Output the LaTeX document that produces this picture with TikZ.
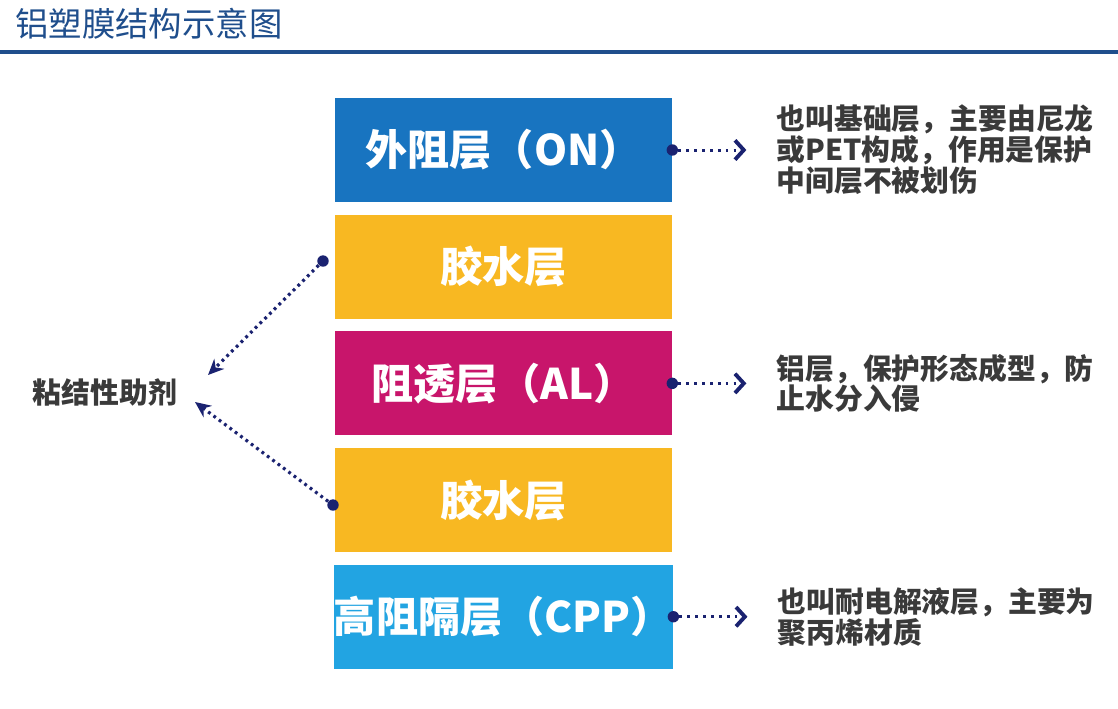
\documentclass[tikz,border=0pt]{standalone}
\usepackage{fontspec}
\usepackage{xcolor}
\usetikzlibrary{arrows.meta,positioning,calc}
\newfontfamily\cjk{Noto Sans CJK SC}
\definecolor{onblue}{HTML}{1874C0}
\definecolor{glueyellow}{HTML}{F8B822}
\definecolor{almag}{HTML}{C8156B}
\definecolor{cppblue}{HTML}{22A4E2}
\definecolor{navy}{HTML}{1A2270}
\definecolor{titleblue}{HTML}{1F4E8C}
\definecolor{txtgray}{HTML}{3A3A3A}
\begin{document}
\begin{tikzpicture}[x=0.02cm,y=-0.02cm,
  layer/.style={rectangle,minimum width=6.74cm,minimum height=2.08cm,inner sep=0pt,text=white,font=\cjk\bfseries\fontsize{24}{28}\selectfont},
  note/.style={anchor=west,align=left,inner sep=0pt,text=txtgray,font=\cjk\bfseries\fontsize{16.4}{17.6}\selectfont},
  pin/.style={circle,fill=navy,inner sep=0pt,minimum size=6.5pt},
  rarrow/.style={navy,line width=1.7pt,dash pattern=on 1.5pt off 3pt,shorten >=0.6cm,-{Straight Barb[length=5pt,width=11pt,line width=2.2pt]}},
  larrow/.style={navy,line width=1.8pt,dash pattern=on 1.6pt off 2.2pt,-{Stealth[length=9pt,width=8pt]}}]
\useasboundingbox (0,0) rectangle (1118,708);
\node[anchor=west,inner sep=0pt,text=titleblue,font=\cjk\fontsize{19}{22}\selectfont] (title) at (15,24) {铝塑膜结构示意图};
\draw[titleblue,line width=2.2pt] (0,52) -- (1118,52);
\node[layer,fill=onblue] (b1) at (503.5,150) {外阻层（ON）};
\node[layer,fill=glueyellow,below=0.24cm of b1] (b2) {胶水层};
\node[layer,fill=almag,below=0.24cm of b2] (b3) {阻透层（AL）};
\node[layer,fill=glueyellow,below=0.24cm of b3] (b4) {胶水层};
\node[layer,fill=cppblue,below=0.24cm of b4] (b5) {高阻隔层（CPP）};
\node[pin] (r1) at (b1.east) {};
\node[pin] (r3) at (b3.east) {};
\node[pin] (r5) at (b5.east) {};
\node[note,right=1.96cm of r1] (t1) {也叫基础层，主要由尼龙\\或PET构成，作用是保护\\中间层不被划伤};
\node[note,right=1.96cm of r3] (t3) {铝层，保护形态成型，防\\止水分入侵};
\node[note,right=1.96cm of r5] (t5) {也叫耐电解液层，主要为\\聚丙烯材质};
\draw[rarrow] (r1) -- (t1);
\draw[rarrow] (r3) -- (t3);
\draw[rarrow] (r5) -- (t5);
\node[note,anchor=center] (glue) at (105,392) {粘结性助剂};
\node[pin] (l2) at (323,261) {};
\node[pin] (l4) at (333,505) {};
\coordinate (g1) at (208,375);
\coordinate (g2) at (195,402);
\draw[larrow] (l2) -- (g1);
\draw[larrow] (l4) -- (g2);
\end{tikzpicture}
\end{document}
